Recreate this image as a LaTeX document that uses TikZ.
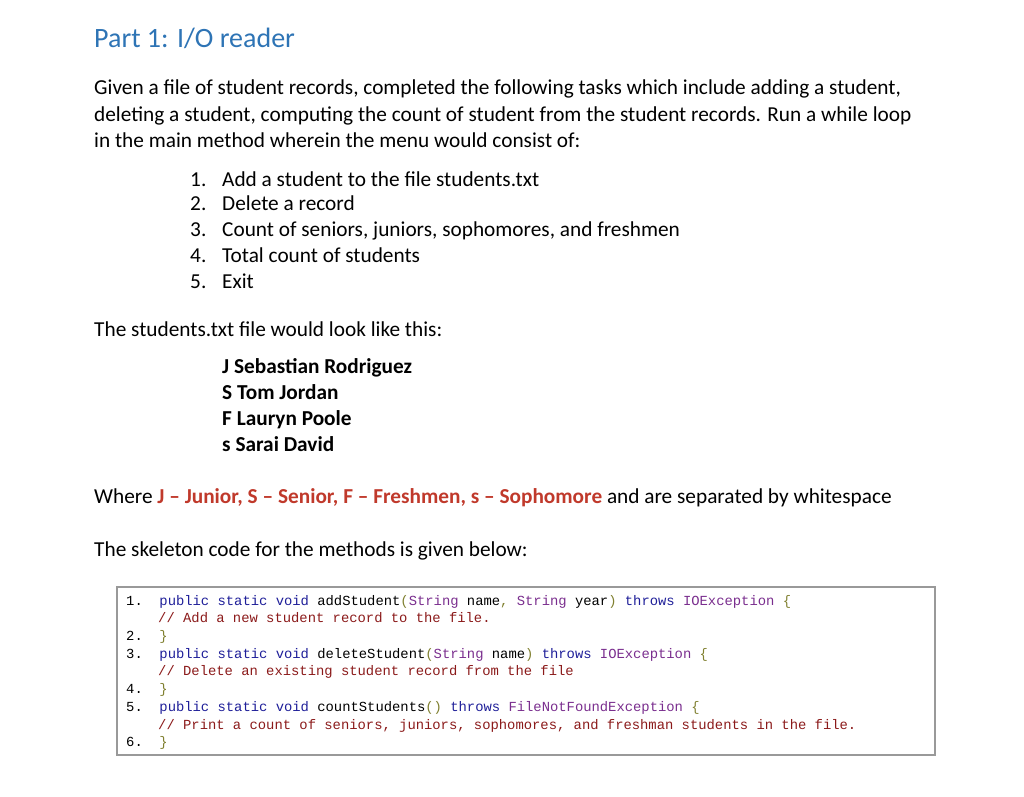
\documentclass[tikz,border=0pt]{standalone}
\usepackage{fontspec}
\setmainfont{Carlito}
\newfontfamily\codef{Liberation Mono}
\definecolor{ttl}{HTML}{2E74B5}
\definecolor{rd}{HTML}{C0392B}
\definecolor{kw}{HTML}{1F1F99}
\definecolor{ty}{HTML}{7A2E8E}
\definecolor{pr}{HTML}{808030}
\definecolor{cm}{HTML}{8B1A1A}
\tikzset{t/.style={anchor=base west,inner sep=0,font=\fontsize{21.3}{23}\selectfont},
 c/.style={anchor=base west,inner sep=0,font=\codef\fontsize{13.85}{15}\selectfont}}
\newcommand\ckw[1]{\textcolor{kw}{#1}}
\newcommand\cty[1]{\textcolor{ty}{#1}}
\newcommand\cpr[1]{\textcolor{pr}{#1}}
\newcommand\ccm[1]{\textcolor{cm}{#1}}
\begin{document}
\begin{tikzpicture}[x=1pt,y=-1pt]
\useasboundingbox (0,0) rectangle (1024,796);
\node[t,font=\fontsize{28}{30}\selectfont,text=ttl] (title) at (94,47) {Part 1: I/O reader};
\node[t] (p1) at (94,94) {Given a file of student records, completed the following tasks which include adding a student,};
\node[t] (p2) at (94,121) {deleting a student, computing the count of student from the student records. Run a while loop};
\node[t] (p3) at (94,147) {in the main method wherein the menu would consist of:};
\foreach \n/\y/\s in {1/186/Add a student to the file students.txt,2/210/Delete a record,3/236/{Count of seniors, juniors, sophomores, and freshmen},4/262/Total count of students,5/288/Exit}{
 \node[t] (n\n) at (190,\y) {\n.};
 \node[t] (l\n) at (222,\y) {\s};}
\node[t] (p4) at (94,336) {The students.txt file would look like this:};
\foreach \i/\y/\s in {1/373/J Sebastian Rodriguez,2/399/S Tom Jordan,3/425/F Lauryn Poole,4/451/s Sarai David}
 \node[t,font=\fontsize{21.3}{23}\selectfont\bfseries] (r\i) at (222,\y) {\s};
\node[t] (p5) at (94,503) {Where \textcolor{rd}{\bfseries J – Junior, S – Senior, F – Freshmen, s – Sophomore} and are separated by whitespace};
\node[t] (p6) at (94,556) {The skeleton code for the methods is given below:};
\draw[draw=gray!80,line width=1.2] (117,587) rectangle (935,755);
\node[c] (c1) at (126,605) {1.\ \ \ckw{public static void} addStudent\cpr{(}\cty{String} name\cpr{,} \cty{String} year\cpr{)} \ckw{throws} \cty{IOException} \cpr{\{}};
\node[c] (c2) at (158,622) {\ccm{// Add a new student record to the file.}};
\node[c] (c3) at (126,640) {2.\ \ \cpr{\}}};
\node[c] (c4) at (126,658) {3.\ \ \ckw{public static void} deleteStudent\cpr{(}\cty{String} name\cpr{)} \ckw{throws} \cty{IOException} \cpr{\{}};
\node[c] (c5) at (158,675) {\ccm{// Delete an existing student record from the file}};
\node[c] (c6) at (126,693) {4.\ \ \cpr{\}}};
\node[c] (c7) at (126,711) {5.\ \ \ckw{public static void} countStudents\cpr{()} \ckw{throws} \cty{FileNotFoundException} \cpr{\{}};
\node[c] (c8) at (158,729) {\ccm{// Print a count of seniors, juniors, sophomores, and freshman students in the file.}};
\node[c] (c9) at (126,746) {6.\ \ \cpr{\}}};
\end{tikzpicture}
\end{document}
